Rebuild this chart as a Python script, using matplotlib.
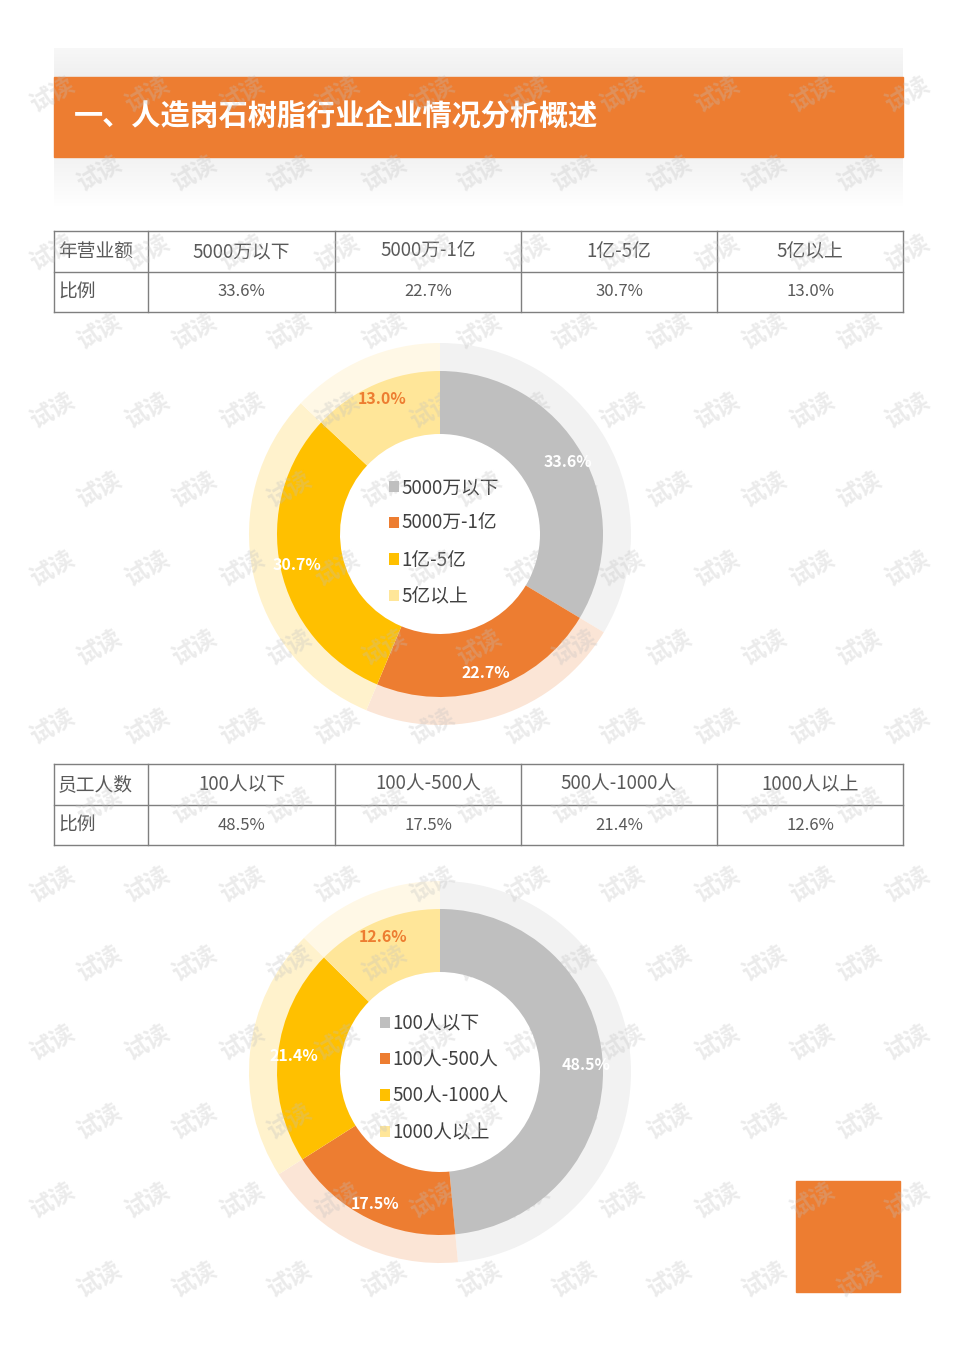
import numpy as np
import matplotlib.pyplot as plt
from matplotlib.patches import Rectangle

plt.rcParams['font.family'] = ['Noto Sans CJK SC', 'DejaVu Sans']

title = '一、人造岗石树脂行业企业情况分析概述'

rev_header = '年营业额'
rev_cats = ['5000万以下', '5000万-1亿', '1亿-5亿', '5亿以上']
rev_vals = [33.6, 22.7, 30.7, 13.0]

emp_header = '员工人数'
emp_cats = ['100人以下', '100人-500人', '500人-1000人', '1000人以上']
emp_vals = [48.5, 17.5, 21.4, 12.6]

main_colors = ['#BFBFBF', '#ED7D31', '#FFC000', '#FFE699']
light_colors = ['#F2F2F2', '#FBE5D6', '#FFF2CC', '#FFF8E6']
orange = '#ED7D31'
text_gray = '#595959'

W, H = 960, 1357
fig = plt.figure(figsize=(W / 100, H / 100), dpi=100)
bg = fig.add_axes([0, 0, 1, 1])
bg.set_xlim(0, W)
bg.set_ylim(H, 0)
bg.axis('off')

# header band with soft gray fades above and below
top_grad = np.linspace(0.97, 0.94, 30).reshape(-1, 1)
bg.imshow(np.repeat(top_grad[:, :, None], 3, axis=2), extent=(54, 903, 77, 48), aspect='auto', zorder=1)
bot_grad = np.linspace(0.95, 1.0, 50).reshape(-1, 1)
bg.imshow(np.repeat(bot_grad[:, :, None], 3, axis=2), extent=(54, 903, 207, 157), aspect='auto', zorder=1)
bg.add_patch(Rectangle((54, 77), 849, 80, color=orange, zorder=2))
bg.text(74, 117, title, color='white', fontsize=21, fontweight='bold', va='center', ha='left', zorder=3)

# tables
col_edges = [54, 148, 335, 521, 717, 903]


def draw_table(y0, header, cats, vals):
    row_h = [41, 40]
    y1 = y0 + row_h[0]
    y2 = y1 + row_h[1]
    kw = dict(color='#7F7F7F', lw=1, zorder=3)
    bg.plot([54, 903], [y0, y0], **kw)
    bg.plot([54, 903], [y1, y1], **kw)
    bg.plot([54, 903], [y2, y2], **kw)
    for x in col_edges:
        bg.plot([x, x], [y0, y2], **kw)
    bg.text(58, (y0 + y1) / 2, header, color=text_gray, fontsize=13.5, va='center', ha='left', zorder=3)
    bg.text(58, (y1 + y2) / 2, '比例', color=text_gray, fontsize=13.5, va='center', ha='left', zorder=3)
    for i, (c, v) in enumerate(zip(cats, vals)):
        xc = (col_edges[i + 1] + col_edges[i + 2]) / 2
        bg.text(xc, (y0 + y1) / 2, c, color=text_gray, fontsize=13.5, va='center', ha='center', zorder=3)
        bg.text(xc, (y1 + y2) / 2, f'{v:.1f}%', color=text_gray, fontsize=12, va='center', ha='center', zorder=3)


draw_table(231, rev_header, rev_cats, rev_vals)
draw_table(764, emp_header, emp_cats, emp_vals)

# bottom right orange block
bg.add_patch(Rectangle((796, 1181), 104, 111, color=orange, zorder=2))


def draw_donut(cx, cy, cats, vals, legend_dx, legend_dy):
    half = 210
    ax = fig.add_axes([(cx - half) / W, 1 - (cy + half) / H, 2 * half / W, 2 * half / H])
    ax.pie(vals, radius=191, colors=light_colors, startangle=90, counterclock=False,
           wedgeprops=dict(width=29, edgecolor='none'))
    wedges, _, autotexts = ax.pie(vals, radius=163, colors=main_colors, startangle=90, counterclock=False,
                                  wedgeprops=dict(width=63, edgecolor='none'),
                                  autopct=lambda p: f'{p:.1f}%', pctdistance=0.9,
                                  textprops=dict(color='white', fontsize=11.5, fontweight='bold'))
    autotexts[-1].set_color(orange)
    ax.set_xlim(-half, half)
    ax.set_ylim(-half, half)
    ax.set_aspect('equal')
    ax.axis('off')
    ax.legend(wedges, cats, loc='center', bbox_to_anchor=(legend_dx, legend_dy), bbox_transform=ax.transData,
              frameon=False, fontsize=13.5, labelcolor='#404040', handlelength=0.55, handleheight=0.55,
              handletextpad=0.12, labelspacing=0.82, borderpad=0)


draw_donut(440, 534, rev_cats, rev_vals, 4, -8)
draw_donut(440, 1072, emp_cats, emp_vals, 4, -6)

# "试读" watermark grid (only marks that fit inside the page)
wm = fig.add_axes([0, 0, 1, 1], zorder=10)
wm.set_xlim(0, W)
wm.set_ylim(H, 0)
wm.axis('off')
for r in range(18):
    y = 15 + 79 * r
    x0 = 100 if r % 2 == 0 else 53
    for k in range(10):
        x = x0 + 95 * k
        if x < 35 or x > W - 35 or y < 28 or y > H - 28:
            continue
        wm.text(x, y, '试读', color='#BFBFBF', alpha=0.3, fontsize=17, fontweight='bold',
                rotation=30, ha='center', va='center')

fig.savefig('out.png', dpi=100)
